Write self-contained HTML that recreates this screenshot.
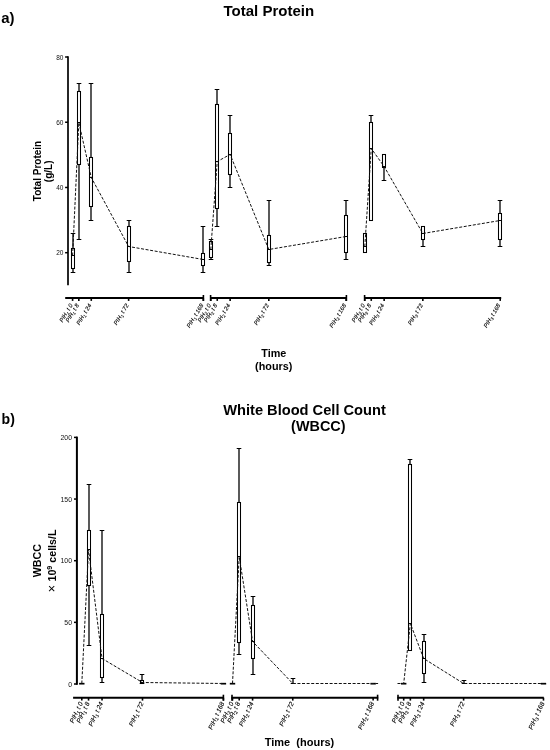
<!DOCTYPE html>
<html><head><meta charset="utf-8"><title>Total Protein and WBCC</title>
<style>html,body{margin:0;padding:0;background:#fff;}svg{display:block;}</style></head>
<body><svg width="550" height="750" viewBox="0 0 550 750">
<rect width="550" height="750" fill="#fff"/>
<line x1="68.00" y1="56.15" x2="68.00" y2="285.32" stroke="#000" stroke-width="1.7" />
<line x1="65.10" y1="57.00" x2="68.00" y2="57.00" stroke="#000" stroke-width="1.5" />
<text x="63.40" y="59.50" text-anchor="end" font-family='"Liberation Sans", Arial, sans-serif' font-size="6.5" fill="#111">80</text>
<line x1="65.10" y1="122.23" x2="68.00" y2="122.23" stroke="#000" stroke-width="1.5" />
<text x="63.40" y="124.73" text-anchor="end" font-family='"Liberation Sans", Arial, sans-serif' font-size="6.5" fill="#111">60</text>
<line x1="65.10" y1="187.47" x2="68.00" y2="187.47" stroke="#000" stroke-width="1.5" />
<text x="63.40" y="189.97" text-anchor="end" font-family='"Liberation Sans", Arial, sans-serif' font-size="6.5" fill="#111">40</text>
<line x1="65.10" y1="252.70" x2="68.00" y2="252.70" stroke="#000" stroke-width="1.5" />
<text x="63.40" y="255.20" text-anchor="end" font-family='"Liberation Sans", Arial, sans-serif' font-size="6.5" fill="#111">20</text>
<line x1="65.20" y1="298.00" x2="204.00" y2="298.00" stroke="#000" stroke-width="2.1" />
<line x1="203.40" y1="295.00" x2="203.40" y2="301.00" stroke="#000" stroke-width="1.6" />
<line x1="72.60" y1="298.00" x2="72.60" y2="300.90" stroke="#000" stroke-width="1.6" />
<text transform="translate(72.90,305.30) rotate(-59)" text-anchor="end" font-family='"Liberation Sans", Arial, sans-serif' font-style="italic" font-size="5.9" fill="#000" stroke="#000" stroke-width="0.12">PIH<tspan font-size="4.13" dy="1.3">1</tspan><tspan dy="-1.3"> t 0</tspan></text>
<line x1="78.82" y1="298.00" x2="78.82" y2="300.90" stroke="#000" stroke-width="1.6" />
<text transform="translate(79.12,305.30) rotate(-59)" text-anchor="end" font-family='"Liberation Sans", Arial, sans-serif' font-style="italic" font-size="5.9" fill="#000" stroke="#000" stroke-width="0.12">PIH<tspan font-size="4.13" dy="1.3">1</tspan><tspan dy="-1.3"> t 8</tspan></text>
<line x1="91.27" y1="298.00" x2="91.27" y2="300.90" stroke="#000" stroke-width="1.6" />
<text transform="translate(91.57,305.30) rotate(-59)" text-anchor="end" font-family='"Liberation Sans", Arial, sans-serif' font-style="italic" font-size="5.9" fill="#000" stroke="#000" stroke-width="0.12">PIH<tspan font-size="4.13" dy="1.3">1</tspan><tspan dy="-1.3"> t 24</tspan></text>
<line x1="128.62" y1="298.00" x2="128.62" y2="300.90" stroke="#000" stroke-width="1.6" />
<text transform="translate(128.92,305.30) rotate(-59)" text-anchor="end" font-family='"Liberation Sans", Arial, sans-serif' font-style="italic" font-size="5.9" fill="#000" stroke="#000" stroke-width="0.12">PIH<tspan font-size="4.13" dy="1.3">1</tspan><tspan dy="-1.3"> t 72</tspan></text>
<line x1="203.30" y1="298.00" x2="203.30" y2="300.90" stroke="#000" stroke-width="1.6" />
<text transform="translate(203.60,305.30) rotate(-59)" text-anchor="end" font-family='"Liberation Sans", Arial, sans-serif' font-style="italic" font-size="5.9" fill="#000" stroke="#000" stroke-width="0.12">PIH<tspan font-size="4.13" dy="1.3">1</tspan><tspan dy="-1.3"> t 168</tspan></text>
<line x1="73.00" y1="233.50" x2="73.00" y2="248.50" stroke="#000" stroke-width="1.3" />
<line x1="70.70" y1="233.50" x2="75.30" y2="233.50" stroke="#000" stroke-width="1.05" />
<line x1="73.00" y1="272.50" x2="73.00" y2="268.50" stroke="#000" stroke-width="1.3" />
<line x1="70.70" y1="272.50" x2="75.30" y2="272.50" stroke="#000" stroke-width="1.05" />
<rect x="71.50" y="248.50" width="3.00" height="20.00" fill="#fff" stroke="#000" stroke-width="1.05"/>
<line x1="71.50" y1="255.50" x2="74.50" y2="255.50" stroke="#000" stroke-width="1.05" />
<line x1="79.00" y1="83.50" x2="79.00" y2="91.50" stroke="#000" stroke-width="1.3" />
<line x1="76.70" y1="83.50" x2="81.30" y2="83.50" stroke="#000" stroke-width="1.05" />
<line x1="79.00" y1="239.50" x2="79.00" y2="164.50" stroke="#000" stroke-width="1.3" />
<line x1="76.70" y1="239.50" x2="81.30" y2="239.50" stroke="#000" stroke-width="1.05" />
<rect x="77.50" y="91.50" width="3.00" height="73.00" fill="#fff" stroke="#000" stroke-width="1.05"/>
<line x1="77.50" y1="122.50" x2="80.50" y2="122.50" stroke="#000" stroke-width="1.05" />
<line x1="91.00" y1="83.50" x2="91.00" y2="157.50" stroke="#000" stroke-width="1.3" />
<line x1="88.70" y1="83.50" x2="93.30" y2="83.50" stroke="#000" stroke-width="1.05" />
<line x1="91.00" y1="220.50" x2="91.00" y2="206.50" stroke="#000" stroke-width="1.3" />
<line x1="88.70" y1="220.50" x2="93.30" y2="220.50" stroke="#000" stroke-width="1.05" />
<rect x="89.50" y="157.50" width="3.00" height="49.00" fill="#fff" stroke="#000" stroke-width="1.05"/>
<line x1="89.50" y1="177.50" x2="92.50" y2="177.50" stroke="#000" stroke-width="1.05" />
<line x1="129.00" y1="220.50" x2="129.00" y2="226.50" stroke="#000" stroke-width="1.3" />
<line x1="126.70" y1="220.50" x2="131.30" y2="220.50" stroke="#000" stroke-width="1.05" />
<line x1="129.00" y1="272.50" x2="129.00" y2="261.50" stroke="#000" stroke-width="1.3" />
<line x1="126.70" y1="272.50" x2="131.30" y2="272.50" stroke="#000" stroke-width="1.05" />
<rect x="127.50" y="226.50" width="3.00" height="35.00" fill="#fff" stroke="#000" stroke-width="1.05"/>
<line x1="127.50" y1="246.50" x2="130.50" y2="246.50" stroke="#000" stroke-width="1.05" />
<line x1="203.00" y1="226.50" x2="203.00" y2="253.50" stroke="#000" stroke-width="1.3" />
<line x1="200.70" y1="226.50" x2="205.30" y2="226.50" stroke="#000" stroke-width="1.05" />
<line x1="203.00" y1="272.50" x2="203.00" y2="265.50" stroke="#000" stroke-width="1.3" />
<line x1="200.70" y1="272.50" x2="205.30" y2="272.50" stroke="#000" stroke-width="1.05" />
<rect x="201.50" y="253.50" width="3.00" height="12.00" fill="#fff" stroke="#000" stroke-width="1.05"/>
<line x1="201.50" y1="259.50" x2="204.50" y2="259.50" stroke="#000" stroke-width="1.05" />
<polyline points="72.60,255.50 78.82,122.50 91.27,177.50 128.62,246.50 203.30,259.50" fill="none" stroke="#111" stroke-width="1.0" stroke-dasharray="3,1.6"/>
<line x1="210.00" y1="298.00" x2="347.00" y2="298.00" stroke="#000" stroke-width="2.1" />
<line x1="210.60" y1="295.00" x2="210.60" y2="301.00" stroke="#000" stroke-width="1.6" />
<line x1="346.40" y1="295.00" x2="346.40" y2="301.00" stroke="#000" stroke-width="1.6" />
<line x1="210.80" y1="298.00" x2="210.80" y2="300.90" stroke="#000" stroke-width="1.6" />
<text transform="translate(211.10,305.30) rotate(-59)" text-anchor="end" font-family='"Liberation Sans", Arial, sans-serif' font-style="italic" font-size="5.9" fill="#000" stroke="#000" stroke-width="0.12">PIH<tspan font-size="4.13" dy="1.3">2</tspan><tspan dy="-1.3"> t 0</tspan></text>
<line x1="217.24" y1="298.00" x2="217.24" y2="300.90" stroke="#000" stroke-width="1.6" />
<text transform="translate(217.54,305.30) rotate(-59)" text-anchor="end" font-family='"Liberation Sans", Arial, sans-serif' font-style="italic" font-size="5.9" fill="#000" stroke="#000" stroke-width="0.12">PIH<tspan font-size="4.13" dy="1.3">2</tspan><tspan dy="-1.3"> t 8</tspan></text>
<line x1="230.13" y1="298.00" x2="230.13" y2="300.90" stroke="#000" stroke-width="1.6" />
<text transform="translate(230.43,305.30) rotate(-59)" text-anchor="end" font-family='"Liberation Sans", Arial, sans-serif' font-style="italic" font-size="5.9" fill="#000" stroke="#000" stroke-width="0.12">PIH<tspan font-size="4.13" dy="1.3">2</tspan><tspan dy="-1.3"> t 24</tspan></text>
<line x1="268.80" y1="298.00" x2="268.80" y2="300.90" stroke="#000" stroke-width="1.6" />
<text transform="translate(269.10,305.30) rotate(-59)" text-anchor="end" font-family='"Liberation Sans", Arial, sans-serif' font-style="italic" font-size="5.9" fill="#000" stroke="#000" stroke-width="0.12">PIH<tspan font-size="4.13" dy="1.3">2</tspan><tspan dy="-1.3"> t 72</tspan></text>
<line x1="346.14" y1="298.00" x2="346.14" y2="300.90" stroke="#000" stroke-width="1.6" />
<text transform="translate(346.44,305.30) rotate(-59)" text-anchor="end" font-family='"Liberation Sans", Arial, sans-serif' font-style="italic" font-size="5.9" fill="#000" stroke="#000" stroke-width="0.12">PIH<tspan font-size="4.13" dy="1.3">2</tspan><tspan dy="-1.3"> t 168</tspan></text>
<line x1="211.00" y1="239.50" x2="211.00" y2="241.50" stroke="#000" stroke-width="1.3" />
<line x1="208.70" y1="239.50" x2="213.30" y2="239.50" stroke="#000" stroke-width="1.05" />
<line x1="211.00" y1="259.50" x2="211.00" y2="257.50" stroke="#000" stroke-width="1.3" />
<line x1="208.70" y1="259.50" x2="213.30" y2="259.50" stroke="#000" stroke-width="1.05" />
<rect x="209.50" y="241.50" width="3.00" height="16.00" fill="#fff" stroke="#000" stroke-width="1.05"/>
<line x1="209.50" y1="249.50" x2="212.50" y2="249.50" stroke="#000" stroke-width="1.05" />
<line x1="217.00" y1="89.50" x2="217.00" y2="104.50" stroke="#000" stroke-width="1.3" />
<line x1="214.70" y1="89.50" x2="219.30" y2="89.50" stroke="#000" stroke-width="1.05" />
<line x1="217.00" y1="226.50" x2="217.00" y2="208.50" stroke="#000" stroke-width="1.3" />
<line x1="214.70" y1="226.50" x2="219.30" y2="226.50" stroke="#000" stroke-width="1.05" />
<rect x="215.50" y="104.50" width="3.00" height="104.00" fill="#fff" stroke="#000" stroke-width="1.05"/>
<line x1="215.50" y1="161.50" x2="218.50" y2="161.50" stroke="#000" stroke-width="1.05" />
<line x1="230.00" y1="115.50" x2="230.00" y2="133.50" stroke="#000" stroke-width="1.3" />
<line x1="227.70" y1="115.50" x2="232.30" y2="115.50" stroke="#000" stroke-width="1.05" />
<line x1="230.00" y1="187.50" x2="230.00" y2="174.50" stroke="#000" stroke-width="1.3" />
<line x1="227.70" y1="187.50" x2="232.30" y2="187.50" stroke="#000" stroke-width="1.05" />
<rect x="228.50" y="133.50" width="3.00" height="41.00" fill="#fff" stroke="#000" stroke-width="1.05"/>
<line x1="228.50" y1="154.50" x2="231.50" y2="154.50" stroke="#000" stroke-width="1.05" />
<line x1="269.00" y1="200.50" x2="269.00" y2="235.50" stroke="#000" stroke-width="1.3" />
<line x1="266.70" y1="200.50" x2="271.30" y2="200.50" stroke="#000" stroke-width="1.05" />
<line x1="269.00" y1="265.50" x2="269.00" y2="262.50" stroke="#000" stroke-width="1.3" />
<line x1="266.70" y1="265.50" x2="271.30" y2="265.50" stroke="#000" stroke-width="1.05" />
<rect x="267.50" y="235.50" width="3.00" height="27.00" fill="#fff" stroke="#000" stroke-width="1.05"/>
<line x1="267.50" y1="249.50" x2="270.50" y2="249.50" stroke="#000" stroke-width="1.05" />
<line x1="346.00" y1="200.50" x2="346.00" y2="215.50" stroke="#000" stroke-width="1.3" />
<line x1="343.70" y1="200.50" x2="348.30" y2="200.50" stroke="#000" stroke-width="1.05" />
<line x1="346.00" y1="259.50" x2="346.00" y2="252.50" stroke="#000" stroke-width="1.3" />
<line x1="343.70" y1="259.50" x2="348.30" y2="259.50" stroke="#000" stroke-width="1.05" />
<rect x="344.50" y="215.50" width="3.00" height="37.00" fill="#fff" stroke="#000" stroke-width="1.05"/>
<line x1="344.50" y1="236.50" x2="347.50" y2="236.50" stroke="#000" stroke-width="1.05" />
<polyline points="210.80,249.50 217.24,161.50 230.13,154.50 268.80,249.50 346.14,236.50" fill="none" stroke="#111" stroke-width="1.0" stroke-dasharray="3,1.6"/>
<line x1="364.00" y1="298.00" x2="501.20" y2="298.00" stroke="#000" stroke-width="2.1" />
<line x1="364.60" y1="295.00" x2="364.60" y2="301.00" stroke="#000" stroke-width="1.6" />
<line x1="364.80" y1="298.00" x2="364.80" y2="300.90" stroke="#000" stroke-width="1.6" />
<text transform="translate(365.10,305.30) rotate(-59)" text-anchor="end" font-family='"Liberation Sans", Arial, sans-serif' font-style="italic" font-size="5.9" fill="#000" stroke="#000" stroke-width="0.12">PIH<tspan font-size="4.13" dy="1.3">3</tspan><tspan dy="-1.3"> t 0</tspan></text>
<line x1="371.25" y1="298.00" x2="371.25" y2="300.90" stroke="#000" stroke-width="1.6" />
<text transform="translate(371.55,305.30) rotate(-59)" text-anchor="end" font-family='"Liberation Sans", Arial, sans-serif' font-style="italic" font-size="5.9" fill="#000" stroke="#000" stroke-width="0.12">PIH<tspan font-size="4.13" dy="1.3">3</tspan><tspan dy="-1.3"> t 8</tspan></text>
<line x1="384.14" y1="298.00" x2="384.14" y2="300.90" stroke="#000" stroke-width="1.6" />
<text transform="translate(384.44,305.30) rotate(-59)" text-anchor="end" font-family='"Liberation Sans", Arial, sans-serif' font-style="italic" font-size="5.9" fill="#000" stroke="#000" stroke-width="0.12">PIH<tspan font-size="4.13" dy="1.3">3</tspan><tspan dy="-1.3"> t 24</tspan></text>
<line x1="422.83" y1="298.00" x2="422.83" y2="300.90" stroke="#000" stroke-width="1.6" />
<text transform="translate(423.13,305.30) rotate(-59)" text-anchor="end" font-family='"Liberation Sans", Arial, sans-serif' font-style="italic" font-size="5.9" fill="#000" stroke="#000" stroke-width="0.12">PIH<tspan font-size="4.13" dy="1.3">3</tspan><tspan dy="-1.3"> t 72</tspan></text>
<line x1="500.21" y1="298.00" x2="500.21" y2="300.90" stroke="#000" stroke-width="1.6" />
<text transform="translate(500.51,305.30) rotate(-59)" text-anchor="end" font-family='"Liberation Sans", Arial, sans-serif' font-style="italic" font-size="5.9" fill="#000" stroke="#000" stroke-width="0.12">PIH<tspan font-size="4.13" dy="1.3">3</tspan><tspan dy="-1.3"> t 168</tspan></text>
<rect x="363.50" y="233.50" width="3.00" height="19.00" fill="#fff" stroke="#000" stroke-width="1.05"/>
<line x1="363.50" y1="246.50" x2="366.50" y2="246.50" stroke="#000" stroke-width="1.05" />
<line x1="371.00" y1="115.50" x2="371.00" y2="122.50" stroke="#000" stroke-width="1.3" />
<line x1="368.70" y1="115.50" x2="373.30" y2="115.50" stroke="#000" stroke-width="1.05" />
<rect x="369.50" y="122.50" width="3.00" height="98.00" fill="#fff" stroke="#000" stroke-width="1.05"/>
<line x1="369.50" y1="148.50" x2="372.50" y2="148.50" stroke="#000" stroke-width="1.05" />
<line x1="384.00" y1="180.50" x2="384.00" y2="167.50" stroke="#000" stroke-width="1.3" />
<line x1="381.70" y1="180.50" x2="386.30" y2="180.50" stroke="#000" stroke-width="1.05" />
<rect x="382.50" y="154.50" width="3.00" height="13.00" fill="#fff" stroke="#000" stroke-width="1.05"/>
<line x1="382.50" y1="166.50" x2="385.50" y2="166.50" stroke="#000" stroke-width="1.05" />
<line x1="423.00" y1="246.50" x2="423.00" y2="239.50" stroke="#000" stroke-width="1.3" />
<line x1="420.70" y1="246.50" x2="425.30" y2="246.50" stroke="#000" stroke-width="1.05" />
<rect x="421.50" y="226.50" width="3.00" height="13.00" fill="#fff" stroke="#000" stroke-width="1.05"/>
<line x1="421.50" y1="233.50" x2="424.50" y2="233.50" stroke="#000" stroke-width="1.05" />
<line x1="500.00" y1="200.50" x2="500.00" y2="213.50" stroke="#000" stroke-width="1.3" />
<line x1="497.70" y1="200.50" x2="502.30" y2="200.50" stroke="#000" stroke-width="1.05" />
<line x1="500.00" y1="246.50" x2="500.00" y2="239.50" stroke="#000" stroke-width="1.3" />
<line x1="497.70" y1="246.50" x2="502.30" y2="246.50" stroke="#000" stroke-width="1.05" />
<rect x="498.50" y="213.50" width="3.00" height="26.00" fill="#fff" stroke="#000" stroke-width="1.05"/>
<line x1="498.50" y1="220.50" x2="501.50" y2="220.50" stroke="#000" stroke-width="1.05" />
<polyline points="364.80,246.50 371.25,148.50 384.14,166.50 422.83,233.50 500.21,220.50" fill="none" stroke="#111" stroke-width="1.0" stroke-dasharray="3,1.6"/>
<line x1="76.90" y1="436.60" x2="76.90" y2="684.80" stroke="#000" stroke-width="2.0" />
<line x1="74.00" y1="437.40" x2="76.90" y2="437.40" stroke="#000" stroke-width="1.5" />
<text x="72.00" y="439.90" text-anchor="end" font-family='"Liberation Sans", Arial, sans-serif' font-size="6.9" fill="#111">200</text>
<line x1="74.00" y1="499.05" x2="76.90" y2="499.05" stroke="#000" stroke-width="1.5" />
<text x="72.00" y="501.55" text-anchor="end" font-family='"Liberation Sans", Arial, sans-serif' font-size="6.9" fill="#111">150</text>
<line x1="74.00" y1="560.70" x2="76.90" y2="560.70" stroke="#000" stroke-width="1.5" />
<text x="72.00" y="563.20" text-anchor="end" font-family='"Liberation Sans", Arial, sans-serif' font-size="6.9" fill="#111">100</text>
<line x1="74.00" y1="622.35" x2="76.90" y2="622.35" stroke="#000" stroke-width="1.5" />
<text x="72.00" y="624.85" text-anchor="end" font-family='"Liberation Sans", Arial, sans-serif' font-size="6.9" fill="#111">50</text>
<line x1="74.00" y1="684.00" x2="76.90" y2="684.00" stroke="#000" stroke-width="1.5" />
<text x="72.00" y="686.50" text-anchor="end" font-family='"Liberation Sans", Arial, sans-serif' font-size="6.9" fill="#111">0</text>
<line x1="73.10" y1="697.70" x2="224.00" y2="697.70" stroke="#000" stroke-width="2.1" />
<line x1="223.40" y1="694.70" x2="223.40" y2="700.70" stroke="#000" stroke-width="1.6" />
<line x1="81.80" y1="697.70" x2="81.80" y2="700.60" stroke="#000" stroke-width="1.6" />
<text transform="translate(83.00,703.20) rotate(-65)" text-anchor="end" font-family='"Liberation Sans", Arial, sans-serif' font-style="italic" font-size="6.5" fill="#000" stroke="#000" stroke-width="0.12">PIH<tspan font-size="4.55" dy="1.3">1</tspan><tspan dy="-1.3"> t 0</tspan></text>
<line x1="88.54" y1="697.70" x2="88.54" y2="700.60" stroke="#000" stroke-width="1.6" />
<text transform="translate(89.74,703.20) rotate(-65)" text-anchor="end" font-family='"Liberation Sans", Arial, sans-serif' font-style="italic" font-size="6.5" fill="#000" stroke="#000" stroke-width="0.12">PIH<tspan font-size="4.55" dy="1.3">1</tspan><tspan dy="-1.3"> t 8</tspan></text>
<line x1="102.03" y1="697.70" x2="102.03" y2="700.60" stroke="#000" stroke-width="1.6" />
<text transform="translate(103.23,703.20) rotate(-65)" text-anchor="end" font-family='"Liberation Sans", Arial, sans-serif' font-style="italic" font-size="6.5" fill="#000" stroke="#000" stroke-width="0.12">PIH<tspan font-size="4.55" dy="1.3">1</tspan><tspan dy="-1.3"> t 24</tspan></text>
<line x1="142.50" y1="697.70" x2="142.50" y2="700.60" stroke="#000" stroke-width="1.6" />
<text transform="translate(143.70,703.20) rotate(-65)" text-anchor="end" font-family='"Liberation Sans", Arial, sans-serif' font-style="italic" font-size="6.5" fill="#000" stroke="#000" stroke-width="0.12">PIH<tspan font-size="4.55" dy="1.3">1</tspan><tspan dy="-1.3"> t 72</tspan></text>
<line x1="223.42" y1="697.70" x2="223.42" y2="700.60" stroke="#000" stroke-width="1.6" />
<text transform="translate(224.62,703.20) rotate(-65)" text-anchor="end" font-family='"Liberation Sans", Arial, sans-serif' font-style="italic" font-size="6.5" fill="#000" stroke="#000" stroke-width="0.12">PIH<tspan font-size="4.55" dy="1.3">1</tspan><tspan dy="-1.3"> t 168</tspan></text>
<line x1="79.10" y1="683.69" x2="84.50" y2="683.69" stroke="#000" stroke-width="1.7" />
<line x1="89.00" y1="484.50" x2="89.00" y2="530.50" stroke="#000" stroke-width="1.3" />
<line x1="86.70" y1="484.50" x2="91.30" y2="484.50" stroke="#000" stroke-width="1.05" />
<line x1="89.00" y1="645.50" x2="89.00" y2="585.50" stroke="#000" stroke-width="1.3" />
<line x1="86.70" y1="645.50" x2="91.30" y2="645.50" stroke="#000" stroke-width="1.05" />
<rect x="87.50" y="530.50" width="3.00" height="55.00" fill="#fff" stroke="#000" stroke-width="1.05"/>
<line x1="87.50" y1="549.50" x2="90.50" y2="549.50" stroke="#000" stroke-width="1.05" />
<line x1="102.00" y1="530.50" x2="102.00" y2="614.50" stroke="#000" stroke-width="1.3" />
<line x1="99.70" y1="530.50" x2="104.30" y2="530.50" stroke="#000" stroke-width="1.05" />
<line x1="102.00" y1="682.50" x2="102.00" y2="677.50" stroke="#000" stroke-width="1.3" />
<line x1="99.70" y1="682.50" x2="104.30" y2="682.50" stroke="#000" stroke-width="1.05" />
<rect x="100.50" y="614.50" width="3.00" height="63.00" fill="#fff" stroke="#000" stroke-width="1.05"/>
<line x1="100.50" y1="658.50" x2="103.50" y2="658.50" stroke="#000" stroke-width="1.05" />
<line x1="142.00" y1="674.50" x2="142.00" y2="680.50" stroke="#000" stroke-width="1.3" />
<line x1="139.70" y1="674.50" x2="144.30" y2="674.50" stroke="#000" stroke-width="1.05" />
<line x1="139.70" y1="683.50" x2="144.30" y2="683.50" stroke="#000" stroke-width="1.05" />
<rect x="140.50" y="680.50" width="3.00" height="3.00" fill="#fff" stroke="#000" stroke-width="1.05"/>
<line x1="140.50" y1="682.50" x2="143.50" y2="682.50" stroke="#000" stroke-width="1.05" />
<line x1="220.72" y1="683.69" x2="226.12" y2="683.69" stroke="#000" stroke-width="1.7" />
<polyline points="81.80,683.50 88.54,549.50 102.03,658.50 142.50,682.50 223.42,683.50" fill="none" stroke="#111" stroke-width="1.0" stroke-dasharray="3,1.6"/>
<line x1="231.40" y1="697.70" x2="378.20" y2="697.70" stroke="#000" stroke-width="2.1" />
<line x1="232.00" y1="694.70" x2="232.00" y2="700.70" stroke="#000" stroke-width="1.6" />
<line x1="377.60" y1="694.70" x2="377.60" y2="700.70" stroke="#000" stroke-width="1.6" />
<line x1="232.50" y1="697.70" x2="232.50" y2="700.60" stroke="#000" stroke-width="1.6" />
<text transform="translate(233.70,703.20) rotate(-65)" text-anchor="end" font-family='"Liberation Sans", Arial, sans-serif' font-style="italic" font-size="6.5" fill="#000" stroke="#000" stroke-width="0.12">PIH<tspan font-size="4.55" dy="1.3">2</tspan><tspan dy="-1.3"> t 0</tspan></text>
<line x1="239.20" y1="697.70" x2="239.20" y2="700.60" stroke="#000" stroke-width="1.6" />
<text transform="translate(240.40,703.20) rotate(-65)" text-anchor="end" font-family='"Liberation Sans", Arial, sans-serif' font-style="italic" font-size="6.5" fill="#000" stroke="#000" stroke-width="0.12">PIH<tspan font-size="4.55" dy="1.3">2</tspan><tspan dy="-1.3"> t 8</tspan></text>
<line x1="252.59" y1="697.70" x2="252.59" y2="700.60" stroke="#000" stroke-width="1.6" />
<text transform="translate(253.79,703.20) rotate(-65)" text-anchor="end" font-family='"Liberation Sans", Arial, sans-serif' font-style="italic" font-size="6.5" fill="#000" stroke="#000" stroke-width="0.12">PIH<tspan font-size="4.55" dy="1.3">2</tspan><tspan dy="-1.3"> t 24</tspan></text>
<line x1="292.76" y1="697.70" x2="292.76" y2="700.60" stroke="#000" stroke-width="1.6" />
<text transform="translate(293.96,703.20) rotate(-65)" text-anchor="end" font-family='"Liberation Sans", Arial, sans-serif' font-style="italic" font-size="6.5" fill="#000" stroke="#000" stroke-width="0.12">PIH<tspan font-size="4.55" dy="1.3">2</tspan><tspan dy="-1.3"> t 72</tspan></text>
<line x1="373.12" y1="697.70" x2="373.12" y2="700.60" stroke="#000" stroke-width="1.6" />
<text transform="translate(374.32,703.20) rotate(-65)" text-anchor="end" font-family='"Liberation Sans", Arial, sans-serif' font-style="italic" font-size="6.5" fill="#000" stroke="#000" stroke-width="0.12">PIH<tspan font-size="4.55" dy="1.3">2</tspan><tspan dy="-1.3"> t 168</tspan></text>
<line x1="229.80" y1="683.69" x2="235.20" y2="683.69" stroke="#000" stroke-width="1.7" />
<line x1="239.00" y1="448.50" x2="239.00" y2="502.50" stroke="#000" stroke-width="1.3" />
<line x1="236.70" y1="448.50" x2="241.30" y2="448.50" stroke="#000" stroke-width="1.05" />
<line x1="239.00" y1="654.50" x2="239.00" y2="642.50" stroke="#000" stroke-width="1.3" />
<line x1="236.70" y1="654.50" x2="241.30" y2="654.50" stroke="#000" stroke-width="1.05" />
<rect x="237.50" y="502.50" width="3.00" height="140.00" fill="#fff" stroke="#000" stroke-width="1.05"/>
<line x1="237.50" y1="556.50" x2="240.50" y2="556.50" stroke="#000" stroke-width="1.05" />
<line x1="253.00" y1="596.50" x2="253.00" y2="605.50" stroke="#000" stroke-width="1.3" />
<line x1="250.70" y1="596.50" x2="255.30" y2="596.50" stroke="#000" stroke-width="1.05" />
<line x1="253.00" y1="674.50" x2="253.00" y2="658.50" stroke="#000" stroke-width="1.3" />
<line x1="250.70" y1="674.50" x2="255.30" y2="674.50" stroke="#000" stroke-width="1.05" />
<rect x="251.50" y="605.50" width="3.00" height="53.00" fill="#fff" stroke="#000" stroke-width="1.05"/>
<line x1="251.50" y1="641.50" x2="254.50" y2="641.50" stroke="#000" stroke-width="1.05" />
<line x1="293.00" y1="678.50" x2="293.00" y2="683.50" stroke="#000" stroke-width="1.3" />
<line x1="290.70" y1="678.50" x2="295.30" y2="678.50" stroke="#000" stroke-width="1.05" />
<line x1="290.70" y1="683.50" x2="295.30" y2="683.50" stroke="#000" stroke-width="1.05" />
<rect x="291.50" y="683.50" width="3.00" height="0.00" fill="#fff" stroke="#000" stroke-width="1.05"/>
<line x1="291.50" y1="683.50" x2="294.50" y2="683.50" stroke="#000" stroke-width="1.05" />
<line x1="370.42" y1="683.69" x2="375.82" y2="683.69" stroke="#000" stroke-width="1.7" />
<polyline points="232.50,683.50 239.20,556.50 252.59,641.50 292.76,683.50 373.12,683.50 378.10,683.50" fill="none" stroke="#111" stroke-width="1.0" stroke-dasharray="3,1.6"/>
<line x1="397.40" y1="697.70" x2="543.80" y2="697.70" stroke="#000" stroke-width="2.1" />
<line x1="398.00" y1="694.70" x2="398.00" y2="700.70" stroke="#000" stroke-width="1.6" />
<line x1="403.70" y1="697.70" x2="403.70" y2="700.60" stroke="#000" stroke-width="1.6" />
<text transform="translate(404.90,703.20) rotate(-65)" text-anchor="end" font-family='"Liberation Sans", Arial, sans-serif' font-style="italic" font-size="6.5" fill="#000" stroke="#000" stroke-width="0.12">PIH<tspan font-size="4.55" dy="1.3">3</tspan><tspan dy="-1.3"> t 0</tspan></text>
<line x1="410.36" y1="697.70" x2="410.36" y2="700.60" stroke="#000" stroke-width="1.6" />
<text transform="translate(411.56,703.20) rotate(-65)" text-anchor="end" font-family='"Liberation Sans", Arial, sans-serif' font-style="italic" font-size="6.5" fill="#000" stroke="#000" stroke-width="0.12">PIH<tspan font-size="4.55" dy="1.3">3</tspan><tspan dy="-1.3"> t 8</tspan></text>
<line x1="423.67" y1="697.70" x2="423.67" y2="700.60" stroke="#000" stroke-width="1.6" />
<text transform="translate(424.87,703.20) rotate(-65)" text-anchor="end" font-family='"Liberation Sans", Arial, sans-serif' font-style="italic" font-size="6.5" fill="#000" stroke="#000" stroke-width="0.12">PIH<tspan font-size="4.55" dy="1.3">3</tspan><tspan dy="-1.3"> t 24</tspan></text>
<line x1="463.60" y1="697.70" x2="463.60" y2="700.60" stroke="#000" stroke-width="1.6" />
<text transform="translate(464.80,703.20) rotate(-65)" text-anchor="end" font-family='"Liberation Sans", Arial, sans-serif' font-style="italic" font-size="6.5" fill="#000" stroke="#000" stroke-width="0.12">PIH<tspan font-size="4.55" dy="1.3">3</tspan><tspan dy="-1.3"> t 72</tspan></text>
<line x1="543.48" y1="697.70" x2="543.48" y2="700.60" stroke="#000" stroke-width="1.6" />
<text transform="translate(544.68,703.20) rotate(-65)" text-anchor="end" font-family='"Liberation Sans", Arial, sans-serif' font-style="italic" font-size="6.5" fill="#000" stroke="#000" stroke-width="0.12">PIH<tspan font-size="4.55" dy="1.3">3</tspan><tspan dy="-1.3"> t 168</tspan></text>
<line x1="401.00" y1="683.69" x2="406.40" y2="683.69" stroke="#000" stroke-width="1.7" />
<line x1="410.00" y1="459.50" x2="410.00" y2="464.50" stroke="#000" stroke-width="1.3" />
<line x1="407.70" y1="459.50" x2="412.30" y2="459.50" stroke="#000" stroke-width="1.05" />
<rect x="408.50" y="464.50" width="3.00" height="186.00" fill="#fff" stroke="#000" stroke-width="1.05"/>
<line x1="408.50" y1="623.50" x2="411.50" y2="623.50" stroke="#000" stroke-width="1.05" />
<line x1="424.00" y1="634.50" x2="424.00" y2="641.50" stroke="#000" stroke-width="1.3" />
<line x1="421.70" y1="634.50" x2="426.30" y2="634.50" stroke="#000" stroke-width="1.05" />
<line x1="424.00" y1="682.50" x2="424.00" y2="673.50" stroke="#000" stroke-width="1.3" />
<line x1="421.70" y1="682.50" x2="426.30" y2="682.50" stroke="#000" stroke-width="1.05" />
<rect x="422.50" y="641.50" width="3.00" height="32.00" fill="#fff" stroke="#000" stroke-width="1.05"/>
<line x1="422.50" y1="658.50" x2="425.50" y2="658.50" stroke="#000" stroke-width="1.05" />
<line x1="464.00" y1="680.50" x2="464.00" y2="683.50" stroke="#000" stroke-width="1.3" />
<line x1="461.70" y1="680.50" x2="466.30" y2="680.50" stroke="#000" stroke-width="1.05" />
<line x1="461.70" y1="683.50" x2="466.30" y2="683.50" stroke="#000" stroke-width="1.05" />
<rect x="462.50" y="683.50" width="3.00" height="0.00" fill="#fff" stroke="#000" stroke-width="1.05"/>
<line x1="462.50" y1="683.50" x2="465.50" y2="683.50" stroke="#000" stroke-width="1.05" />
<line x1="540.78" y1="683.69" x2="546.18" y2="683.69" stroke="#000" stroke-width="1.7" />
<polyline points="397.50,683.50 403.70,683.50 410.36,623.50 423.67,658.50 463.60,683.50 543.48,683.50" fill="none" stroke="#111" stroke-width="1.0" stroke-dasharray="3,1.6"/>
<text x="1.2" y="22.5" text-anchor="start" font-family='"Liberation Sans", Arial, sans-serif' font-weight="bold" font-size="13.8" fill="#000" textLength="13.3" lengthAdjust="spacingAndGlyphs">a)</text>
<text x="268.8" y="16" text-anchor="middle" font-family='"Liberation Sans", Arial, sans-serif' font-weight="bold" font-size="15" fill="#000" >Total Protein</text>
<text x="273.8" y="356.5" text-anchor="middle" font-family='"Liberation Sans", Arial, sans-serif' font-weight="bold" font-size="10.8" fill="#000" >Time</text>
<text x="273.7" y="369.5" text-anchor="middle" font-family='"Liberation Sans", Arial, sans-serif' font-weight="bold" font-size="10.8" fill="#000" >(hours)</text>
<text transform="translate(40.7,171) rotate(-90)" text-anchor="middle" font-family='"Liberation Sans", Arial, sans-serif' font-weight="bold" font-size="10" fill="#000">Total Protein</text>
<text transform="translate(52,171.3) rotate(-90)" text-anchor="middle" font-family='"Liberation Sans", Arial, sans-serif' font-weight="bold" font-size="10" fill="#000">(g/L)</text>
<text x="1.6" y="424.4" text-anchor="start" font-family='"Liberation Sans", Arial, sans-serif' font-weight="bold" font-size="14.3" fill="#000" textLength="13.3" lengthAdjust="spacingAndGlyphs">b)</text>
<text x="304.5" y="415" text-anchor="middle" font-family='"Liberation Sans", Arial, sans-serif' font-weight="bold" font-size="14.65" fill="#000" >White Blood Cell Count</text>
<text x="318.3" y="431.4" text-anchor="middle" font-family='"Liberation Sans", Arial, sans-serif' font-weight="bold" font-size="14.4" fill="#000" >(WBCC)</text>
<text x="299.5" y="745.5" text-anchor="middle" font-family='"Liberation Sans", Arial, sans-serif' font-weight="bold" font-size="11" fill="#000" xml:space="preserve">Time  (hours)</text>
<text transform="translate(40.7,560.7) rotate(-90)" text-anchor="middle" font-family='"Liberation Sans", Arial, sans-serif' font-weight="bold" font-size="10.7" fill="#000">WBCC</text>
<text transform="translate(55.7,560.9) rotate(-90)" text-anchor="middle" font-family='"Liberation Sans", Arial, sans-serif' font-weight="bold" font-size="10.7" fill="#000"><tspan font-weight="normal" font-size="12.5">× </tspan>10<tspan font-size="7" dy="-4">9</tspan><tspan dy="4"> cells/L</tspan></text>
</svg></body></html>
